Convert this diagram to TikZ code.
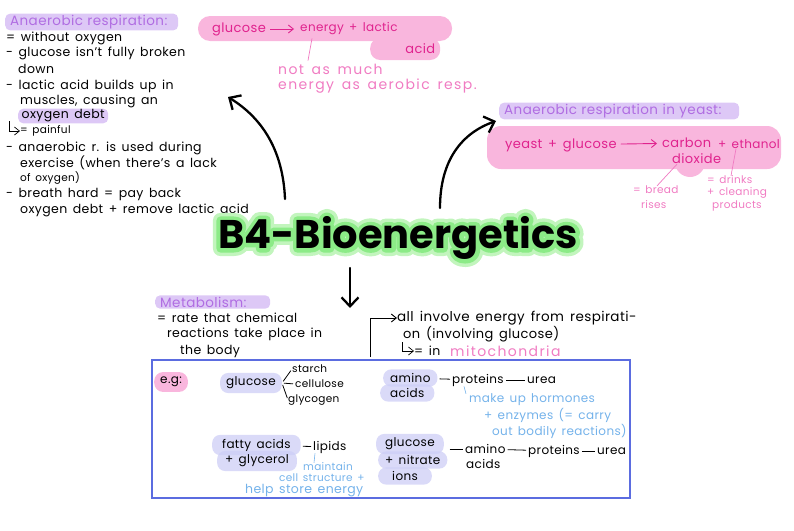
\documentclass[tikz,border=0pt]{standalone}
\usepackage{fontspec}
\setmainfont{Poppins}[LetterSpace=3, WordSpace=1.5]
\newfontfamily\bannerfont{Poppins}
\usetikzlibrary{arrows.meta,positioning,calc}
\definecolor{headpurple}{HTML}{B06DE2}
\definecolor{headlav}{HTML}{DDC8F6}
\definecolor{hlpink}{HTML}{F9B6DD}
\definecolor{chempink}{HTML}{E0238E}
\definecolor{softpink}{HTML}{F07BC2}
\definecolor{lavbox}{HTML}{CDCEF6}
\definecolor{skyblue}{HTML}{74B2EA}
\definecolor{boxblue}{HTML}{5B6CE0}
% glow round the title letters (stroked text)
\newcommand{\glowcopy}[3]{%
  \special{pdf:literal direct q 1 j 1 J #1 w #2 RG 1 Tr}#3\special{pdf:literal direct Q}}
\tikzset{
  note/.style={anchor=west, inner sep=0pt, font=\fontsize{12.5}{15}\selectfont},
  boxnote/.style={note, font=\fontsize{12}{14}\selectfont},
  small/.style={note, font=\fontsize{10.5}{12}\selectfont},
  heading/.style={
    note, text=headpurple, fill=headlav, rounded corners=5pt,
    inner xsep=5pt, inner ysep=1.5pt, align=left,
    font=\fontsize{13.5}{15}\selectfont
  },
  chem/.style={note, text=chempink, font=\fontsize{13}{15}\selectfont},
  softwide/.style={note, text=softpink,
    font=\fontsize{14}{16}\selectfont\addfontfeature{LetterSpace=10}},
  aside/.style={small, text=softpink},
  bluenote/.style={boxnote, text=skyblue},
  bluesmall/.style={small, text=skyblue},
  hl/.style={
    boxnote, fill=lavbox, fill opacity=0.75, text opacity=1,
    rounded corners=8pt, inner xsep=7pt, inner ysep=4pt
  },
  titlefont/.style={inner sep=0pt, font=\fontsize{40}{40}\selectfont\bannerfont\bfseries},
  bigarrow/.style={-{Straight Barb[length=9pt,width=17pt]}, line width=2.3pt, line cap=round},
  arrow/.style={-{Straight Barb[length=5pt,width=8pt]}, line width=0.9pt},
  link/.style={line width=0.8pt, shorten <=2pt, shorten >=2pt},
  boxline/.style={draw=boxblue, line width=2.6pt}
}

\begin{document}
\begin{tikzpicture}[x=1pt, y=-1pt]
\useasboundingbox (0,0) rectangle (794,530);

% Anaerobic respiration (left)
\node[heading, text width=163pt] (anhead) at (5,22) {Anaerobic respiration:};
\node[note] (an1) at (6,38) {= without oxygen};
\node[note] (an2) at (6,53) {- glucose isn't fully broken};
\node[note] (an3) at (18,69) {down};
\node[note] (an4) at (6,86) {- lactic acid builds up in};
\node[note] (an5) at (20,101) {muscles, causing an};
\node[note, fill=headlav, rounded corners=5pt, inner xsep=3pt, inner ysep=1pt,
  minimum width=90pt, align=left] (debt) at (18,116) {oxygen debt\hfill};
\coordinate (painc) at (9,121);
\node[small] (painful) at (20,131) {= painful};
\draw[arrow, line width=0.7pt] (painc) |- (painful.west);
\node[note] (an6) at (6,148) {- anaerobic r. is used during};
\node[note] (an7) at (20,163) {exercise (when there's a lack};
\node[small] (an8) at (20,178) {of oxygen)};
\node[note] (an9) at (6,194) {- breath hard = pay back};
\node[note] (an10) at (20,210) {oxygen debt + remove lactic acid};

% Word equation (top)
\fill[hlpink, rounded corners=12pt] (198,16) rectangle (452,41);
\node[note, fill=hlpink, rounded corners=10pt, minimum width=70pt,
  minimum height=22pt] (acid) at (370,49) {};
\node[chem] (glu) at (212,29) {glucose};
\node[chem, font=\fontsize{12}{15}\selectfont] (ene) at (300,29) {energy + lactic};
\node[chem] at (acid.center) {acid};
\draw[arrow, chempink, shorten <=4pt, shorten >=6pt] (glu) -- (ene);
\node[softwide] (much1) at (278,69) {not as much};
\node[softwide] (much2) at (278,86) {energy as aerobic resp.};
\draw[softpink, line width=0.7pt] ([xshift=12pt, yshift=-3pt]ene.south west)
  -- ([xshift=30pt, yshift=3pt]much1.north west);

% Anaerobic respiration in yeast (right)
\node[heading, text width=230pt] (yhead) at (499,111) {Anaerobic respiration in yeast:};
\fill[hlpink, rounded corners=14pt] (487,126) rectangle (781,169);
\fill[hlpink] (690,162) circle (15pt);
\fill[hlpink] (505,150) circle (18pt);
\node[chem] (yg) at (505,145) {yeast + glucose};
\node[chem] (carbon) at (662,143) {carbon};
\node[chem] (dioxide) at (672,159) {dioxide};
\node[chem, font=\fontsize{12}{14}\selectfont] (ethanol) at (718,144) {+ ethanol};
\draw[arrow, chempink, shorten <=4pt, shorten >=5pt] (yg) -- (carbon);
\node[aside] (bread1) at (633,190) {= bread};
\node[aside] (bread2) at (641,205) {rises};
\node[aside] (drink1) at (707,180) {= drinks};
\node[aside] (drink2) at (707,193) {+ cleaning};
\node[aside] (drink3) at (712,206) {products};
\draw[softpink, line width=0.7pt] ([xshift=5pt]dioxide.south west) -- ([xshift=24pt]bread1.north west);
\draw[softpink, line width=0.7pt] ([xshift=18pt]ethanol.south west) -- ([xshift=24pt]drink1.north west);

% Title
\node[titlefont] (glowout) at (398,238) {\glowcopy{15}{0.76 0.96 0.74}{B4-Bioenergetics}};
\node[titlefont] (glowin) at (398,238) {\glowcopy{8}{0.55 0.92 0.53}{B4-Bioenergetics}};
\node[titlefont] (title) at (398,238) {B4-Bioenergetics};

% Arrows from title
\coordinate (s1) at (285,199);
\coordinate (e1) at (228,97);
\coordinate (s2) at (440,208);
\coordinate (e2) at (496,121);
\coordinate (s3) at (350,268);
\coordinate (e3) at (350,308);
\draw[bigarrow] (s1) .. controls (283,150) and (262,118) .. (e1);
\draw[bigarrow] (s2) .. controls (440,160) and (462,133) .. (e2);
\draw[bigarrow] (s3) -- (e3);

% Metabolism
\node[heading, text width=105pt] (mhead) at (155,302) {Metabolism:};
\node[note] (m1) at (157,318) {= rate that chemical};
\node[note] (m2) at (167,334) {reactions take place in};
\node[note] (m3) at (180,351) {the body};
\node[note, font=\fontsize{13.5}{15}\selectfont] (resp1) at (397,318) {all involve energy from respirati-};
\node[note, font=\fontsize{13}{15}\selectfont] (resp2) at (403,334) {on (involving glucose)};
\node[note] (mito1) at (414,351) {= in};
\node[softwide] (mito2) at (450,351) {mitochondria};
\coordinate (bendc) at (370,357);
\coordinate (hookc) at (402,342);
\draw[arrow] (bendc) |- (resp1.west);
\draw[arrow, line width=0.7pt] (hookc) |- (mito1.west);

% Examples box
\draw[boxline] (152,360) rectangle (630,498);
\node[boxnote, fill=hlpink, rounded corners=9pt, inner xsep=6pt, inner ysep=5pt] (eg) at (154,382) {e.g:};

\node[hl, inner xsep=6pt] (gluA) at (220,383) {glucose};
\node[small] (starch) at (292,369) {starch};
\node[small] (cellu) at (295,384) {cellulose};
\node[small] (glyco) at (288,400) {glycogen};
\draw[link] (gluA.east) -- (starch.west);
\draw[link] (gluA.east) -- (cellu.west);
\draw[link] (gluA.east) -- (glyco.west);

\node[hl] (aminoA) at (383,378) {amino};
\node[hl, inner xsep=10pt] (acidsA) at (380,393) {acids};
\node[boxnote] (protA) at (452,380) {proteins};
\node[boxnote] (ureaA) at (527,380) {urea};
\draw[link] (aminoA) -- (protA);
\draw[link] (protA) -- (ureaA);
\node[bluenote] (horm1) at (469,400) {make up hormones};
\node[bluenote] (horm2) at (484,415) {+ enzymes (= carry};
\node[bluenote] (horm3) at (492,431) {out bodily reactions)};
\draw[skyblue, line width=0.6pt] ([xshift=12pt]protA.south west) -- ([xshift=-3pt]horm1.north west);

\node[hl, inner xsep=10pt] (fatty) at (212,445) {fatty acids};
\node[hl, inner xsep=8pt] (glyc) at (217,461) {+ glycerol};
\node[boxnote] (lipids) at (313,447) {lipids};
\draw[link] (fatty) -- (lipids);
\node[bluesmall] (main1) at (303,467) {maintain};
\node[bluesmall] (main2) at (279,478) {cell structure +};
\node[bluenote, font=\fontsize{12.5}{14}\selectfont] (main3) at (245,491) {help store energy};
\draw[skyblue, line width=0.6pt] ([xshift=2pt]lipids.south west) -- ([xshift=11pt]main1.north west);

\node[hl, inner xsep=9pt] (gluB) at (376,444) {glucose};
\node[hl] (nitr) at (378,460) {+ nitrate};
\node[hl, inner xsep=14pt] (ions) at (378,476) {ions};
\node[boxnote] (aminoB) at (465,449) {amino};
\node[boxnote] (acidsB) at (466,464) {acids};
\node[boxnote] (protB) at (528,451) {proteins};
\node[boxnote] (ureaB) at (597,451) {urea};
\draw[link] (nitr.east |- aminoB) -- (aminoB);
\draw[link] (aminoB) -- (protB);
\draw[link] (protB) -- (ureaB);

\end{tikzpicture}
\end{document}
